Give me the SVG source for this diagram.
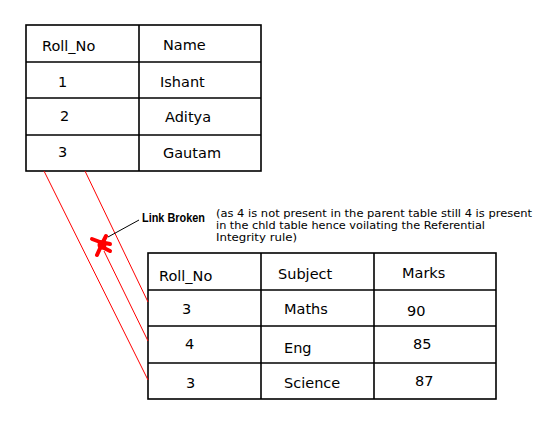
<svg xmlns="http://www.w3.org/2000/svg" width="548" height="442" viewBox="0 0 548 442">
<style>
.t{font-family:"DejaVu Sans",Verdana,sans-serif;font-size:14.5px;fill:#000}
.s{font-family:"DejaVu Sans",Verdana,sans-serif;font-size:10.5px;fill:#000}
.b{font-family:"Liberation Sans",Arial,sans-serif;font-size:12px;font-weight:bold;fill:#000}
.g{fill:none;stroke:#000;stroke-width:1.6}
.r{fill:none;stroke:#ff0000;stroke-width:1}
</style>
<rect width="548" height="442" fill="#fff"/>
<g id="parent-table">
<rect class="g" x="26" y="25" width="235" height="146"/>
<line class="g" x1="139" y1="25" x2="139" y2="171"/>
<line class="g" x1="26" y1="62" x2="261" y2="62"/>
<line class="g" x1="26" y1="98" x2="261" y2="98"/>
<line class="g" x1="26" y1="135" x2="261" y2="135"/>
<text class="t" x="42" y="51">Roll_No</text>
<text class="t" x="163" y="50">Name</text>
<text class="t" x="58" y="87">1</text>
<text class="t" x="160" y="87">Ishant</text>
<text class="t" x="60" y="121">2</text>
<text class="t" x="165" y="122">Aditya</text>
<text class="t" x="58" y="157">3</text>
<text class="t" x="163" y="158">Gautam</text>
</g>
<g id="child-table">
<rect class="g" x="148" y="253" width="348" height="146"/>
<line class="g" x1="261" y1="253" x2="261" y2="399"/>
<line class="g" x1="374" y1="253" x2="374" y2="399"/>
<line class="g" x1="148" y1="290" x2="496" y2="290"/>
<line class="g" x1="148" y1="326" x2="496" y2="326"/>
<line class="g" x1="148" y1="363" x2="496" y2="363"/>
<text class="t" x="159" y="281">Roll_No</text>
<text class="t" x="278" y="279">Subject</text>
<text class="t" x="402" y="278">Marks</text>
<text class="t" x="182" y="314">3</text>
<text class="t" x="284" y="314">Maths</text>
<text class="t" x="407" y="316">90</text>
<text class="t" x="185" y="349">4</text>
<text class="t" x="284" y="353">Eng</text>
<text class="t" x="413" y="349">85</text>
<text class="t" x="186" y="388">3</text>
<text class="t" x="284" y="388">Science</text>
<text class="t" x="415" y="386">87</text>
</g>
<g id="connectors">
<line class="r" x1="44" y1="171" x2="148" y2="380"/>
<line class="r" x1="85" y1="171" x2="148" y2="302"/>
<line class="r" x1="104" y1="251" x2="148" y2="341"/>
<line x1="139" y1="220" x2="108" y2="237" stroke="#000" stroke-width="1"/>
<g id="break-mark" fill="none" stroke="#ff0000" stroke-width="4" stroke-linecap="round" stroke-linejoin="round">
<path d="M92 239 L100 242 L110 244"/>
<path d="M106 236 L102 244 L97 255"/>
<path d="M102 247 L110 251"/>
<circle cx="102" cy="245" r="2.5" fill="#ff0000"/>
</g>
</g>
<g id="label">
<text class="b" x="142" y="222" textLength="63" lengthAdjust="spacingAndGlyphs">Link Broken</text>
<text class="s" x="216" y="217" textLength="316" lengthAdjust="spacingAndGlyphs">(as 4 is not present in the parent table still 4 is present</text>
<text class="s" x="216" y="229" textLength="269" lengthAdjust="spacingAndGlyphs">in the chld table hence voilating the Referential</text>
<text class="s" x="216" y="241" textLength="81" lengthAdjust="spacingAndGlyphs">Integrity rule)</text>
</g>
</svg>
